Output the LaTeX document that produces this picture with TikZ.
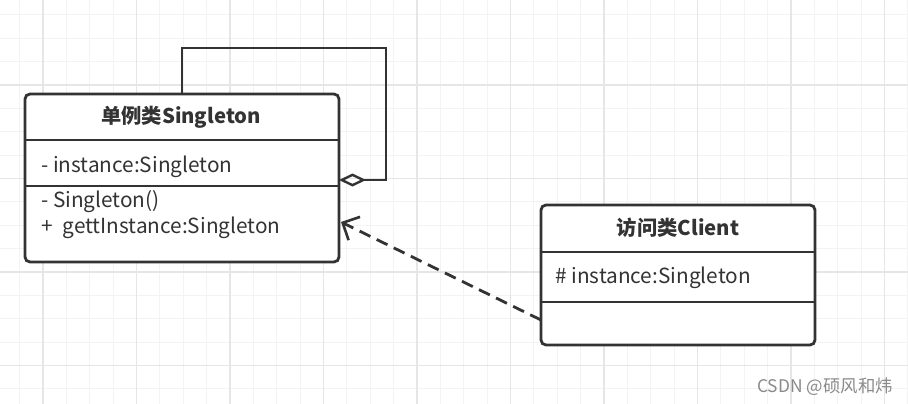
\documentclass[tikz,border=0pt]{standalone}
\usepackage{fontspec}
\setmainfont{Noto Sans CJK SC}
\usetikzlibrary{arrows.meta}
\definecolor{ink}{HTML}{333333}
\definecolor{gridminor}{HTML}{F3F3F3}
\definecolor{gridmajor}{HTML}{E6E6E6}
\definecolor{wm}{HTML}{8A8A8A}
\tikzset{
  classbox/.style={draw=ink, line width=2.8pt, rounded corners=5pt, fill=white, inner sep=0pt},
  divider/.style={draw=ink, line width=2.8pt},
  headtext/.style={font=\fontsize{20.3}{23}\selectfont\bfseries, text=ink},
  membertext/.style={font=\fontsize{20.8}{24}\selectfont, text=ink, anchor=base west, inner sep=0pt},
  link/.style={draw=ink, line width=2.8pt},
  aggr/.style={link, -{Diamond[open,length=27pt,width=13pt,line width=2.4pt]}},
  depend/.style={link, dash pattern=on 12pt off 7pt, -{Straight Barb[length=13pt,width=26pt,line width=2.6pt]}},
}
\begin{document}
\begin{tikzpicture}[x=1pt,y=-1pt]
\useasboundingbox (0,0) rectangle (908,404);
\fill[white] (0,0) rectangle (908,404);
% grid
\foreach \i in {-2,...,40} {
  \draw[gridminor, line width=1.2pt] ({43+23.375*\i},0) -- ({43+23.375*\i},404);
}
\foreach \i in {-4,...,18} {
  \draw[gridminor, line width=1.2pt] (0,{85+23.375*\i}) -- (908,{85+23.375*\i});
}
\foreach \i in {0,...,9} {
  \draw[gridmajor, line width=1.4pt] ({43+93.5*\i},0) -- ({43+93.5*\i},404);
}
\foreach \i in {-1,...,4} {
  \draw[gridmajor, line width=1.4pt] (0,{85+93.5*\i}) -- (908,{85+93.5*\i});
}
% Singleton class
\node[classbox, minimum width=314pt, minimum height=168pt] (S) at (182,178) {};
\draw[divider] (S.west |- 0,140) -- (S.east |- 0,140);
\draw[divider] (S.west |- 0,186) -- (S.east |- 0,186);
\node[headtext] (Sh) at (181,117) {单例类Singleton};
\node[membertext] (Sa) at (41,172) {- instance:Singleton};
\node[membertext] (Sm1) at (41,207) {- Singleton()};
\node[membertext] (Sm2) at (41,233) {+\hspace{10pt}gettInstance:Singleton};
% Client class
\node[classbox, minimum width=274pt, minimum height=140pt] (C) at (678,275) {};
\draw[divider] (C.west |- 0,252) -- (C.east |- 0,252);
\draw[divider] (C.west |- 0,302) -- (C.east |- 0,302);
\node[headtext] (Ch) at (678,228) {访问类Client};
\node[membertext] (Ca) at (555,283) {\# instance:Singleton};
% self aggregation loop
\coordinate (loopTR) at (386,48);
\coordinate (agg) at (339,180);
\draw[aggr] (S.north) |- (loopTR) |- (agg);
% dependency
\coordinate (depS) at (541,320);
\coordinate (depT) at (341,222);
\draw[depend] (depS) -- (depT);
% watermark
\node[font=\fontsize{17.4}{20}\selectfont, text=wm, anchor=base east, inner sep=0pt] (wm) at (893,392) {CSDN @硕风和炜};
\end{tikzpicture}
\end{document}
